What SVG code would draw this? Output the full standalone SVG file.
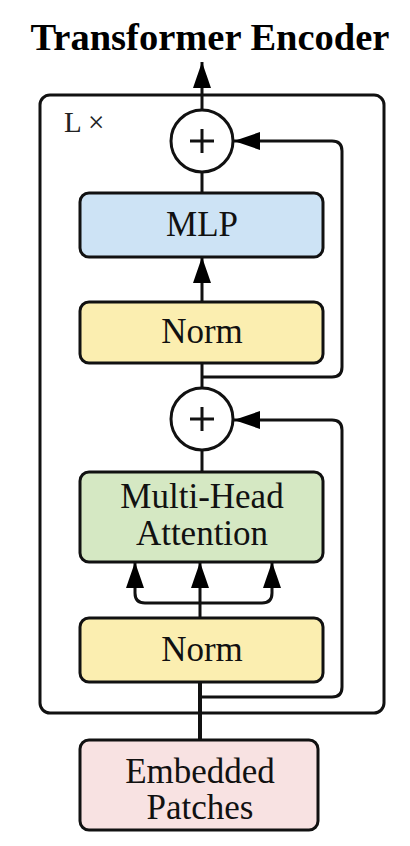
<svg xmlns="http://www.w3.org/2000/svg" width="410" height="846" viewBox="0 0 410 846">
<defs>
<marker id="ah" markerUnits="userSpaceOnUse" markerWidth="26" markerHeight="18" refX="26" refY="9" orient="auto" viewBox="0 0 26 18">
<path d="M0,0 L26,9 L0,18 z" fill="#000"/>
</marker>
<style>
.box{stroke:#111;stroke-width:3}
.lbl{font-family:"Liberation Serif","Times New Roman",serif;font-size:35px;fill:#111;text-anchor:middle}
.ln{fill:none;stroke:#111;stroke-width:3}
.arr{fill:none;stroke:#111;stroke-width:3;marker-end:url(#ah)}
</style>
</defs>
<rect width="410" height="846" fill="#fff"/>
<text x="210" y="50" font-family="'Liberation Serif','Times New Roman',serif" font-size="38.5" font-weight="bold" text-anchor="middle" fill="#000">Transformer Encoder</text>
<g id="outer">
<rect x="40" y="95" width="344" height="618" rx="10" fill="none" stroke="#111" stroke-width="3"/>
<text x="64" y="132" font-family="'Liberation Serif','Times New Roman',serif" font-size="29" fill="#222">L ×</text>
</g>
<g id="connectors">
<path class="arr" d="M202,110 V62"/>
<path class="ln" d="M202,193 V172"/>
<path class="arr" d="M202,302 V257"/>
<path class="arr" d="M202,377 H332 Q342,377 342,367 V151 Q342,141 332,141 H234"/>
<path class="ln" d="M202,363 V388"/>
<path class="ln" d="M202,450 V472"/>
<path class="arr" d="M200,697 H332 Q342,697 342,687 V430 Q342,420 332,420 H234"/>
<path class="arr" d="M200,618 V562"/>
<path class="arr" d="M200,603 H145 Q135,603 135,593 V562"/>
<path class="arr" d="M200,603 H262 Q272,603 272,593 V562"/>
<path class="ln" d="M200,740 V682" style="stroke-width:4"/>
</g>
<g id="add1">
<circle cx="202" cy="141" r="31" fill="#fff" stroke="#111" stroke-width="3"/>
<path class="ln" d="M190,141 H214 M202,129 V153"/>
</g>
<g id="mlp">
<rect class="box" x="80" y="193" width="243" height="64" rx="9" fill="#cde3f5"/>
<text class="lbl" x="202" y="236">MLP</text>
</g>
<g id="norm1">
<rect class="box" x="80" y="302" width="243" height="61" rx="9" fill="#fbeeb0"/>
<text class="lbl" x="202" y="343">Norm</text>
</g>
<g id="add2">
<circle cx="202" cy="419" r="31" fill="#fff" stroke="#111" stroke-width="3"/>
<path class="ln" d="M190,419 H214 M202,407 V431"/>
</g>
<g id="mha">
<rect class="box" x="80" y="472" width="243" height="90" rx="9" fill="#d5e8c3"/>
<text class="lbl" x="202" y="508">Multi-Head</text>
<text class="lbl" x="202" y="545">Attention</text>
</g>
<g id="norm2">
<rect class="box" x="80" y="618" width="243" height="64" rx="9" fill="#fbeeb0"/>
<text class="lbl" x="202" y="661">Norm</text>
</g>
<g id="embedded">
<rect class="box" x="80" y="740" width="238" height="90" rx="9" fill="#f8e2e2"/>
<text class="lbl" x="200" y="783">Embedded</text>
<text class="lbl" x="200" y="819">Patches</text>
</g>
</svg>
